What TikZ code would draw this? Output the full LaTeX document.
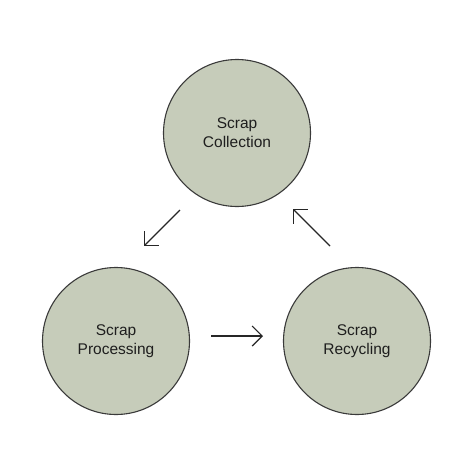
\documentclass[tikz,border=0pt]{standalone}
\usepackage{fontspec}
\setmainfont{Liberation Sans}
\usetikzlibrary{arrows.meta}
\definecolor{nodefill}{HTML}{C6CCBA}
\definecolor{nodeline}{HTML}{3A3A3A}
\definecolor{txt}{HTML}{1E1E1E}
\tikzset{
  stage/.style={circle, draw=nodeline, line width=1.1pt, fill=nodefill,
    minimum size=147pt, inner sep=0pt, align=center, text=txt,
    font=\fontsize{15.5pt}{19pt}\selectfont},
  flow/.style={draw=black!85, line width=1.2pt,
    -{Straight Barb[length=10pt,width=20pt,line width=1.2pt]}}
}
\begin{document}
\begin{tikzpicture}[x=1pt,y=-1pt]
\useasboundingbox (0,0) rectangle (474,474);
\fill[white] (0,0) rectangle (474,474);
\node[stage] (col) at (237,133) {Scrap\\Collection};
\node[stage] (pro) at (116,341) {Scrap\\Processing};
\node[stage] (rec) at (357,341) {Scrap\\Recycling};
\coordinate (a1s) at (180,210);
\coordinate (a1e) at (144,246);
\coordinate (a2s) at (211,336);
\coordinate (a2e) at (263,336);
\coordinate (a3s) at (330,246);
\coordinate (a3e) at (293,209);
\draw[flow] (a1s) -- (a1e);
\draw[flow] (a2s) -- (a2e);
\draw[flow] (a3s) -- (a3e);
\end{tikzpicture}
\end{document}
